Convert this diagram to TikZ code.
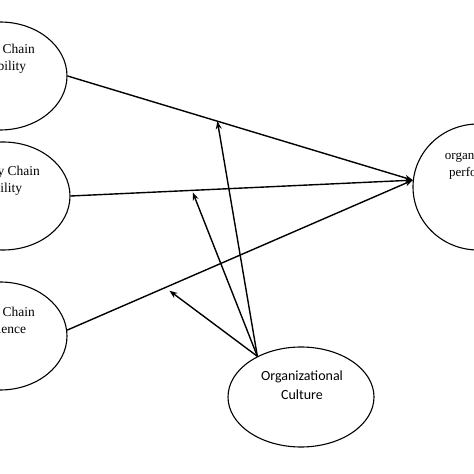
\documentclass[tikz,border=0pt]{standalone}
\usepackage{fontspec}
\setmainfont{Liberation Serif}
\newfontfamily\culturefont{Carlito}
\usetikzlibrary{shapes.geometric,calc,arrows.meta}

\begin{document}
\begin{tikzpicture}[x=1pt, y=1pt,
    var/.style = {draw, ellipse, line width=1.1pt, minimum width=134pt, minimum height=108pt, inner sep=0pt},
    txt/.style = {align=center, font=\fontsize{13.5}{17}\selectfont},
    link/.style = {line width=1.4pt, -{Stealth[length=8pt, width=6pt]}}]

    \useasboundingbox (0,0) rectangle (474,474);
    \clip (0,0) rectangle (474,474);

    % Latentne spremenljivke
    \node[var] (cap) at (0,398) {};
    \node[var] (agi) at (3,278) {};
    \node[var] (res) at (0,138) {};
    \node[var, minimum width=130pt, minimum height=126pt] (perf) at (478,287) {};
    \node[var, minimum width=146pt, minimum height=100pt] (cult) at (301,77) {};

    % Oznake
    \node[txt] (capt) at ([shift={(-2,17)}]cap.center) {Supply Chain\\Capability};
    \node[txt] (agit) at ([shift={(0,15)}]agi.center) {Supply Chain\\Agility};
    \node[txt] (rest) at ([shift={(-2,16)}]res.center) {Supply Chain\\Resilience};
    \node[txt, font=\fontsize{13}{17}\selectfont] (perft) at ([shift={(4,22)}]perf.center) {organizational\\performance};
    \node[txt, font=\culturefont\fontsize{14}{19}\selectfont] (cultt) at ([shift={(1,12)}]cult.center) {Organizational\\Culture};

    % Neposredni vplivi
    \draw[link] (cap.east) -- (perf.174);
    \draw[link] (agi.east) -- (perf.174);
    \draw[link] (res.5) -- (perf.174);

    % Moderacija
    \coordinate (m1) at ($(cap.east)!0.434!(perf.174)$);
    \coordinate (m2) at ($(agi.east)!0.357!(perf.174) + (0,-2)$);
    \coordinate (m3) at ($(res.5)!0.296!(perf.174) + (0,-5)$);
    \draw[link] (cult.137) -- (m1);
    \draw[link] (cult.137) -- (m2);
    \draw[link] (cult.137) -- (m3);

\end{tikzpicture}
\end{document}
